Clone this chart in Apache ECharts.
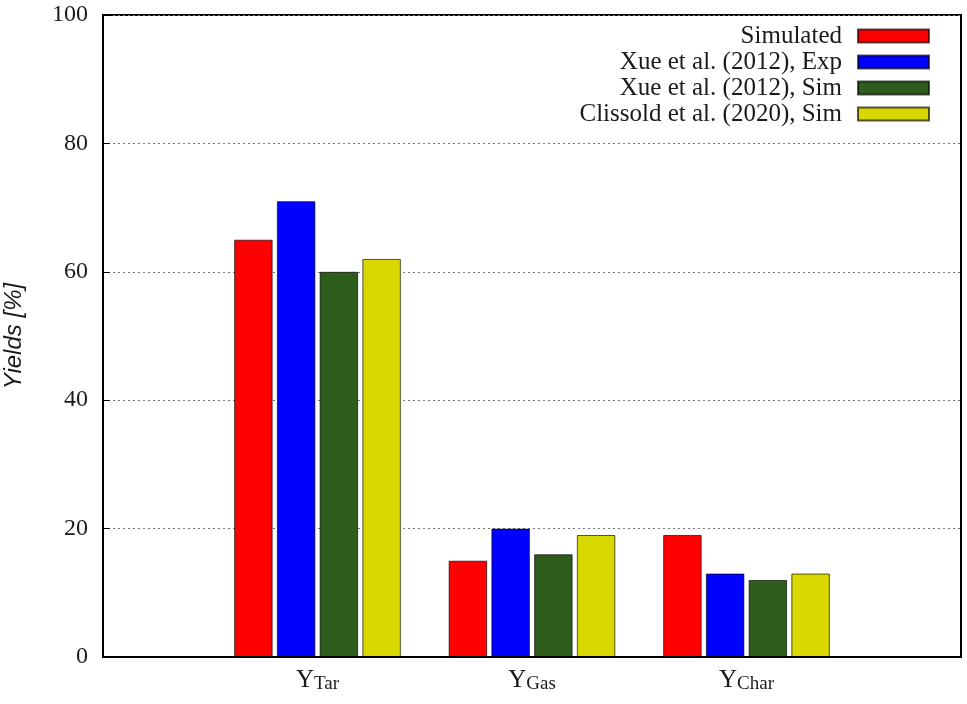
<!DOCTYPE html>
<html>
<head>
<meta charset="utf-8">
<script src="https://cdn.jsdelivr.net/npm/echarts@6/dist/echarts.min.js"></script>
<style>
html,body{margin:0;padding:0;background:#fff;}
#chart{width:967px;height:704px;}
</style>
</head>
<body>
<div id="chart"></div>
<script>
// Data
const subscripts = ['Tar', 'Gas', 'Char'];
const seriesNames = ['Simulated', 'Xue et al. (2012), Exp', 'Xue et al. (2012), Sim', 'Clissold et al. (2020), Sim'];
const simulated = [65, 15, 19];
const xueExp = [71, 20, 13];
const xueSim = [60, 16, 12];
const clissoldSim = [62, 19, 13];
const yTicks = [0, 20, 40, 60, 80, 100];
const colors = ['#ff0000', '#0000ff', '#2e5c1c', '#d8d800'];

// categories padded with empty slots on both sides (x range -1 .. 3)
const categories = [''].concat(subscripts, ['']);
function pad(arr) { return ['-'].concat(arr, ['-']); }
const allSeries = [simulated, xueExp, xueSim, clissoldSim];

const serif = "'Liberation Serif', 'DejaVu Serif', serif";
const textColor = '#1a1a1a';

const chart = echarts.init(document.getElementById('chart'), null, {renderer: 'canvas'});
chart.setOption({
  animation: false,
  backgroundColor: '#fff',
  grid: {
    left: 103, right: 6, top: 15, bottom: 47,
    containLabel: false,
    outerBoundsMode: 'none',
    show: true, borderColor: '#000', borderWidth: 2, backgroundColor: 'transparent'
  },
  legend: {
    orient: 'vertical',
    align: 'right',
    right: 37,
    top: 23,
    padding: 0,
    itemWidth: 71,
    itemHeight: 13,
    itemGap: 0,
    icon: 'rect',
    data: seriesNames,
    selectedMode: false,
    textStyle: {
      fontFamily: serif, fontSize: 25, color: textColor,
      lineHeight: 26, padding: [0, 11, 0, 0]
    }
  },
  xAxis: [{
    type: 'category',
    data: categories,
    boundaryGap: false,
    position: 'bottom',
    z: 5,
    axisLine: {show: true, lineStyle: {color: '#000', width: 2}},
    axisTick: {show: false},
    splitLine: {show: false},
    axisLabel: {
      margin: 11,
      interval: 0,
      formatter: function (v) { return v ? '{m|Y}{s|' + v + '}' : ''; },
      rich: {
        m: {fontFamily: serif, fontSize: 25, color: textColor, lineHeight: 26, verticalAlign: 'top'},
        s: {fontFamily: serif, fontSize: 19, color: textColor, lineHeight: 19, padding: [15, 0, 0, 0], verticalAlign: 'bottom'}
      }
    }
  }],
  yAxis: [{
    type: 'value',
    min: 0, max: 100, interval: 20,
    position: 'left',
    name: 'Yields [%]',
    nameLocation: 'middle',
    nameGap: 77,
    nameTextStyle: {fontFamily: "'Liberation Sans', Arial, sans-serif", fontStyle: 'italic', fontSize: 24, color: textColor},
    axisLine: {show: true, lineStyle: {color: '#000', width: 2}},
    axisTick: {show: true, inside: true, length: 7, lineStyle: {color: '#000', width: 1}},
    axisLabel: {
      margin: 15, fontFamily: serif, fontSize: 24, color: textColor,
      formatter: function (v) { return yTicks.indexOf(v) >= 0 ? String(v) : ''; }
    },
    splitLine: {show: true, lineStyle: {color: '#777', width: 1, type: [2, 3]}}
  }],
  series: allSeries.map(function (arr, i) {
    return {
      name: seriesNames[i],
      type: 'bar',
      data: pad(arr),
      barWidth: 38.5,
      barGap: '11%',
      itemStyle: {color: colors[i], borderColor: 'rgba(0,0,0,0.65)', borderWidth: 1}
    };
  })
});
</script>
</body>
</html>
